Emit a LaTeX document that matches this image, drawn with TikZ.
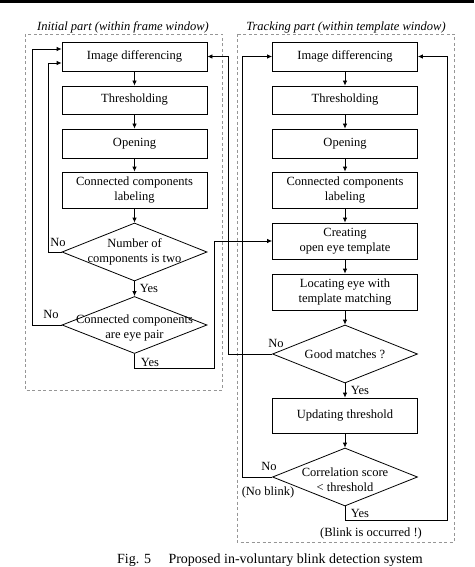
\documentclass[tikz,border=0pt]{standalone}
\usepackage{fontspec}
\setmainfont{Liberation Serif}
\usepackage{tikz}
\definecolor{fr}{RGB}{150, 150, 150}
\usetikzlibrary{shapes.geometric}
\usetikzlibrary{arrows.meta}

\begin{document}
\begin{tikzpicture}[font=\fontsize{12.5}{15}\selectfont,
every node/.style={inner sep=0pt},
stepbox/.style={rectangle, minimum width=145pt, line width=0.8pt, draw=black, align=center},
decision/.style={diamond, minimum width=145pt, minimum height=58pt, line width=0.8pt, draw=black},
frame/.style={line width=0.7pt, draw=fr, dash pattern=on 3pt off 2.5pt},
arrow/.style={line width=0.8pt, color=black, -{Latex[length=5pt, width=4.5pt]}},
line/.style={line width=0.8pt, color=black}]
\useasboundingbox (0pt, 0pt) rectangle (474pt, -567pt);
\fill [black] (0pt, 0pt) rectangle (474pt, -3.5pt);
% frames
\draw [frame] (25pt, -34pt) rectangle (222pt, -390pt);
\draw [frame] (237pt, -34pt) rectangle (454pt, -542pt);
\node (t1) at (123pt, -27pt) {\itshape Initial part (within frame window)};
\node (t2) at (346pt, -27pt) {\itshape Tracking part (within template window)};
% initial part
\node (1) [stepbox, minimum height=29pt] at (134.5pt, -56.5pt) {Image differencing};
\node (2) [stepbox, minimum height=28pt] at (134.5pt, -100pt) {Thresholding};
\node (3) [stepbox, minimum height=29pt] at (134.5pt, -143.5pt) {Opening};
\node (4) [stepbox, minimum height=36pt] at (134.5pt, -190pt) {Connected components\\labeling};
\node (5) [decision] at (134.5pt, -252pt) {};
\node at (134.5pt, -252pt) [align=center] {Number of\\components is two};
\node (6) [decision, minimum height=57pt] at (134.5pt, -325pt) {};
\node at (134.5pt, -328pt) [align=center] {Connected components\\are eye pair};
% tracking part
\node (7) [stepbox, minimum height=29pt] at (345pt, -56.5pt) {Image differencing};
\node (8) [stepbox, minimum height=28pt] at (345pt, -100pt) {Thresholding};
\node (9) [stepbox, minimum height=29pt] at (345pt, -143.5pt) {Opening};
\node (10) [stepbox, minimum height=36pt] at (345pt, -190pt) {Connected components\\labeling};
\node (11) [stepbox, minimum height=36pt] at (345pt, -241pt) {Creating\\open eye template};
\node (12) [stepbox, minimum height=36pt] at (345pt, -292pt) {Locating eye with\\template matching};
\node (13) [decision] at (345pt, -354pt) {};
\node at (345pt, -354pt) {Good matches ?};
\node (14) [stepbox, minimum height=35pt] at (345pt, -415.5pt) {Updating threshold};
\node (15) [decision] at (345pt, -477pt) {};
\node at (345pt, -480pt) [align=center] {Correlation score\\< threshold};
% labels
\node at (58pt, -242pt) {No};
\node at (51pt, -314pt) {No};
\node at (149pt, -288pt) {Yes};
\node at (150pt, -362pt) {Yes};
\node at (276pt, -343pt) {No};
\node at (360pt, -390pt) {Yes};
\node at (269pt, -466pt) {No};
\node at (268pt, -492pt) {(No blink)};
\node at (360pt, -513pt) {Yes};
\node at (371pt, -533pt) {(Blink is occurred !)};
\node [anchor=base, font=\fontsize{14}{16}\selectfont] at (270pt, -563pt) {Fig. 5\quad\ Proposed in-voluntary blink detection system};
% connectors
\draw [arrow] (1) to (2);
\draw [arrow] (2) to (3);
\draw [arrow] (3) to (4);
\draw [arrow] (4) to (5);
\draw [arrow] (5) to (6);
\draw [arrow] (7) to (8);
\draw [arrow] (8) to (9);
\draw [arrow] (9) to (10);
\draw [arrow] (10) to (11);
\draw [arrow] (11) to (12);
\draw [arrow] (12) to (13);
\draw [arrow] (13) to (14);
\draw [arrow] (14) to (15);
\draw [arrow] (5.west) -- (48pt, -252pt) |- ([yshift=-6.5pt]1.west);
\draw [arrow] (6.west) -- (32pt, -325pt) |- ([yshift=7.5pt]1.west);
\draw [arrow] (6.south) |- (214pt, -368pt) |- (11.west);
\draw [arrow] (13.west) -- (228pt, -354pt) |- (1.east);
\draw [arrow] (15.west) -- (242pt, -477pt) |- (7.west);
\draw [arrow] (15.south) |- (447pt, -520pt) |- (7.east);
\end{tikzpicture}
\end{document}
